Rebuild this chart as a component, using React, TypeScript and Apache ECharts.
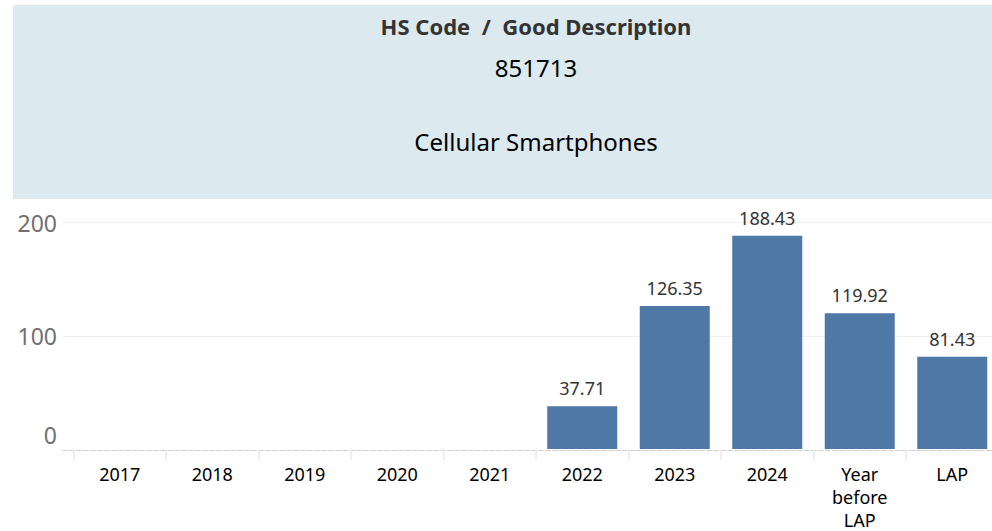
import React, { useEffect, useRef } from "react";
import * as echarts from "echarts";

const categories = ["2017", "2018", "2019", "2020", "2021", "2022", "2023", "2024", "Year\nbefore\nLAP", "LAP"];
const values: (number | null)[] = [null, null, null, null, null, 37.71, 126.35, 188.43, 119.92, 81.43];
const yTicks = { min: 0, max: 200, interval: 100 };
const headerTitle = "HS Code  /  Good Description";
const headerCode = "851713";
const headerDesc = "Cellular Smartphones";

const FONT = "Noto Sans";
const CANVAS_W = 1010;

export default function App() {
  const ref = useRef<HTMLDivElement>(null);
  useEffect(() => {
    if (!ref.current) return;
    const chart = echarts.init(ref.current, null, { renderer: "svg" });
    const gridTop = 222.7;
    const gridHeight = 227.3;
    chart.setOption({
      animation: false,
      textStyle: { fontFamily: FONT },
      graphic: [
        { type: "rect", shape: { x: 13, y: 5, width: 979, height: 194 }, style: { fill: "#dce9ef" }, silent: true },
        { type: "text", x: 536, y: 26, style: { text: headerTitle, fontFamily: FONT, fontSize: 22, fontWeight: "bold", fill: "#333333", align: "center", verticalAlign: "middle" } },
        { type: "text", x: 536, y: 67, style: { text: headerCode, fontFamily: FONT, fontSize: 24, fill: "#000000", align: "center", verticalAlign: "middle" } },
        { type: "text", x: 536, y: 141, style: { text: headerDesc, fontFamily: FONT, fontSize: 24, fill: "#000000", align: "center", verticalAlign: "middle" } },
      ],
      grid: [
        { left: 63, right: CANVAS_W - 992, top: gridTop, height: gridHeight },
        { left: 73.5, width: 925, top: gridTop, height: gridHeight },
      ],
      xAxis: [
        {
          gridIndex: 0, type: "value", min: 0, max: 1,
          axisLine: { show: true, lineStyle: { color: "#cccccc", type: [4, 3], width: 1 } },
          axisTick: { show: false }, axisLabel: { show: false }, splitLine: { show: false },
        },
        {
          gridIndex: 1, type: "category", data: categories,
          axisLine: { show: false },
          axisTick: { show: true, interval: 0, length: 11, lineStyle: { color: "#eeeeee", width: 2 } },
          axisLabel: { interval: 0, color: "#000000", fontSize: 18, fontFamily: FONT, margin: 13, lineHeight: 23 },
        },
      ],
      yAxis: [
        {
          gridIndex: 0, type: "value", ...yTicks,
          axisLine: { show: false }, axisTick: { show: false },
          splitLine: { show: true, lineStyle: { color: "#eeeeee", width: 1 } },
          axisLabel: {
            color: "#707070", fontSize: 23, fontFamily: FONT, margin: 6,
            formatter: (v: number) => (v === 0 ? "{z|0}" : String(v)),
            rich: { z: { color: "#707070", fontSize: 23, fontFamily: FONT, padding: [0, 0, 30, 0] } },
          },
        },
        {
          gridIndex: 1, type: "value", ...yTicks, show: false,
          splitLine: { show: false },
        },
      ],
      series: [
        {
          type: "bar", xAxisIndex: 1, yAxisIndex: 1, data: values, barWidth: 70,
          itemStyle: { color: "#4e79a7" },
          label: { show: true, position: "top", distance: 9, color: "#333333", fontSize: 18, fontFamily: FONT, formatter: (p: any) => p.value.toFixed(2) },
        },
      ],
    });
    return () => chart.dispose();
  }, []);
  return (
    <div style={{ position: "absolute", left: 0, top: 0, width: 992, height: 531, overflow: "hidden" }}>
      <div ref={ref} style={{ width: CANVAS_W, height: 531 }} />
    </div>
  );
}
